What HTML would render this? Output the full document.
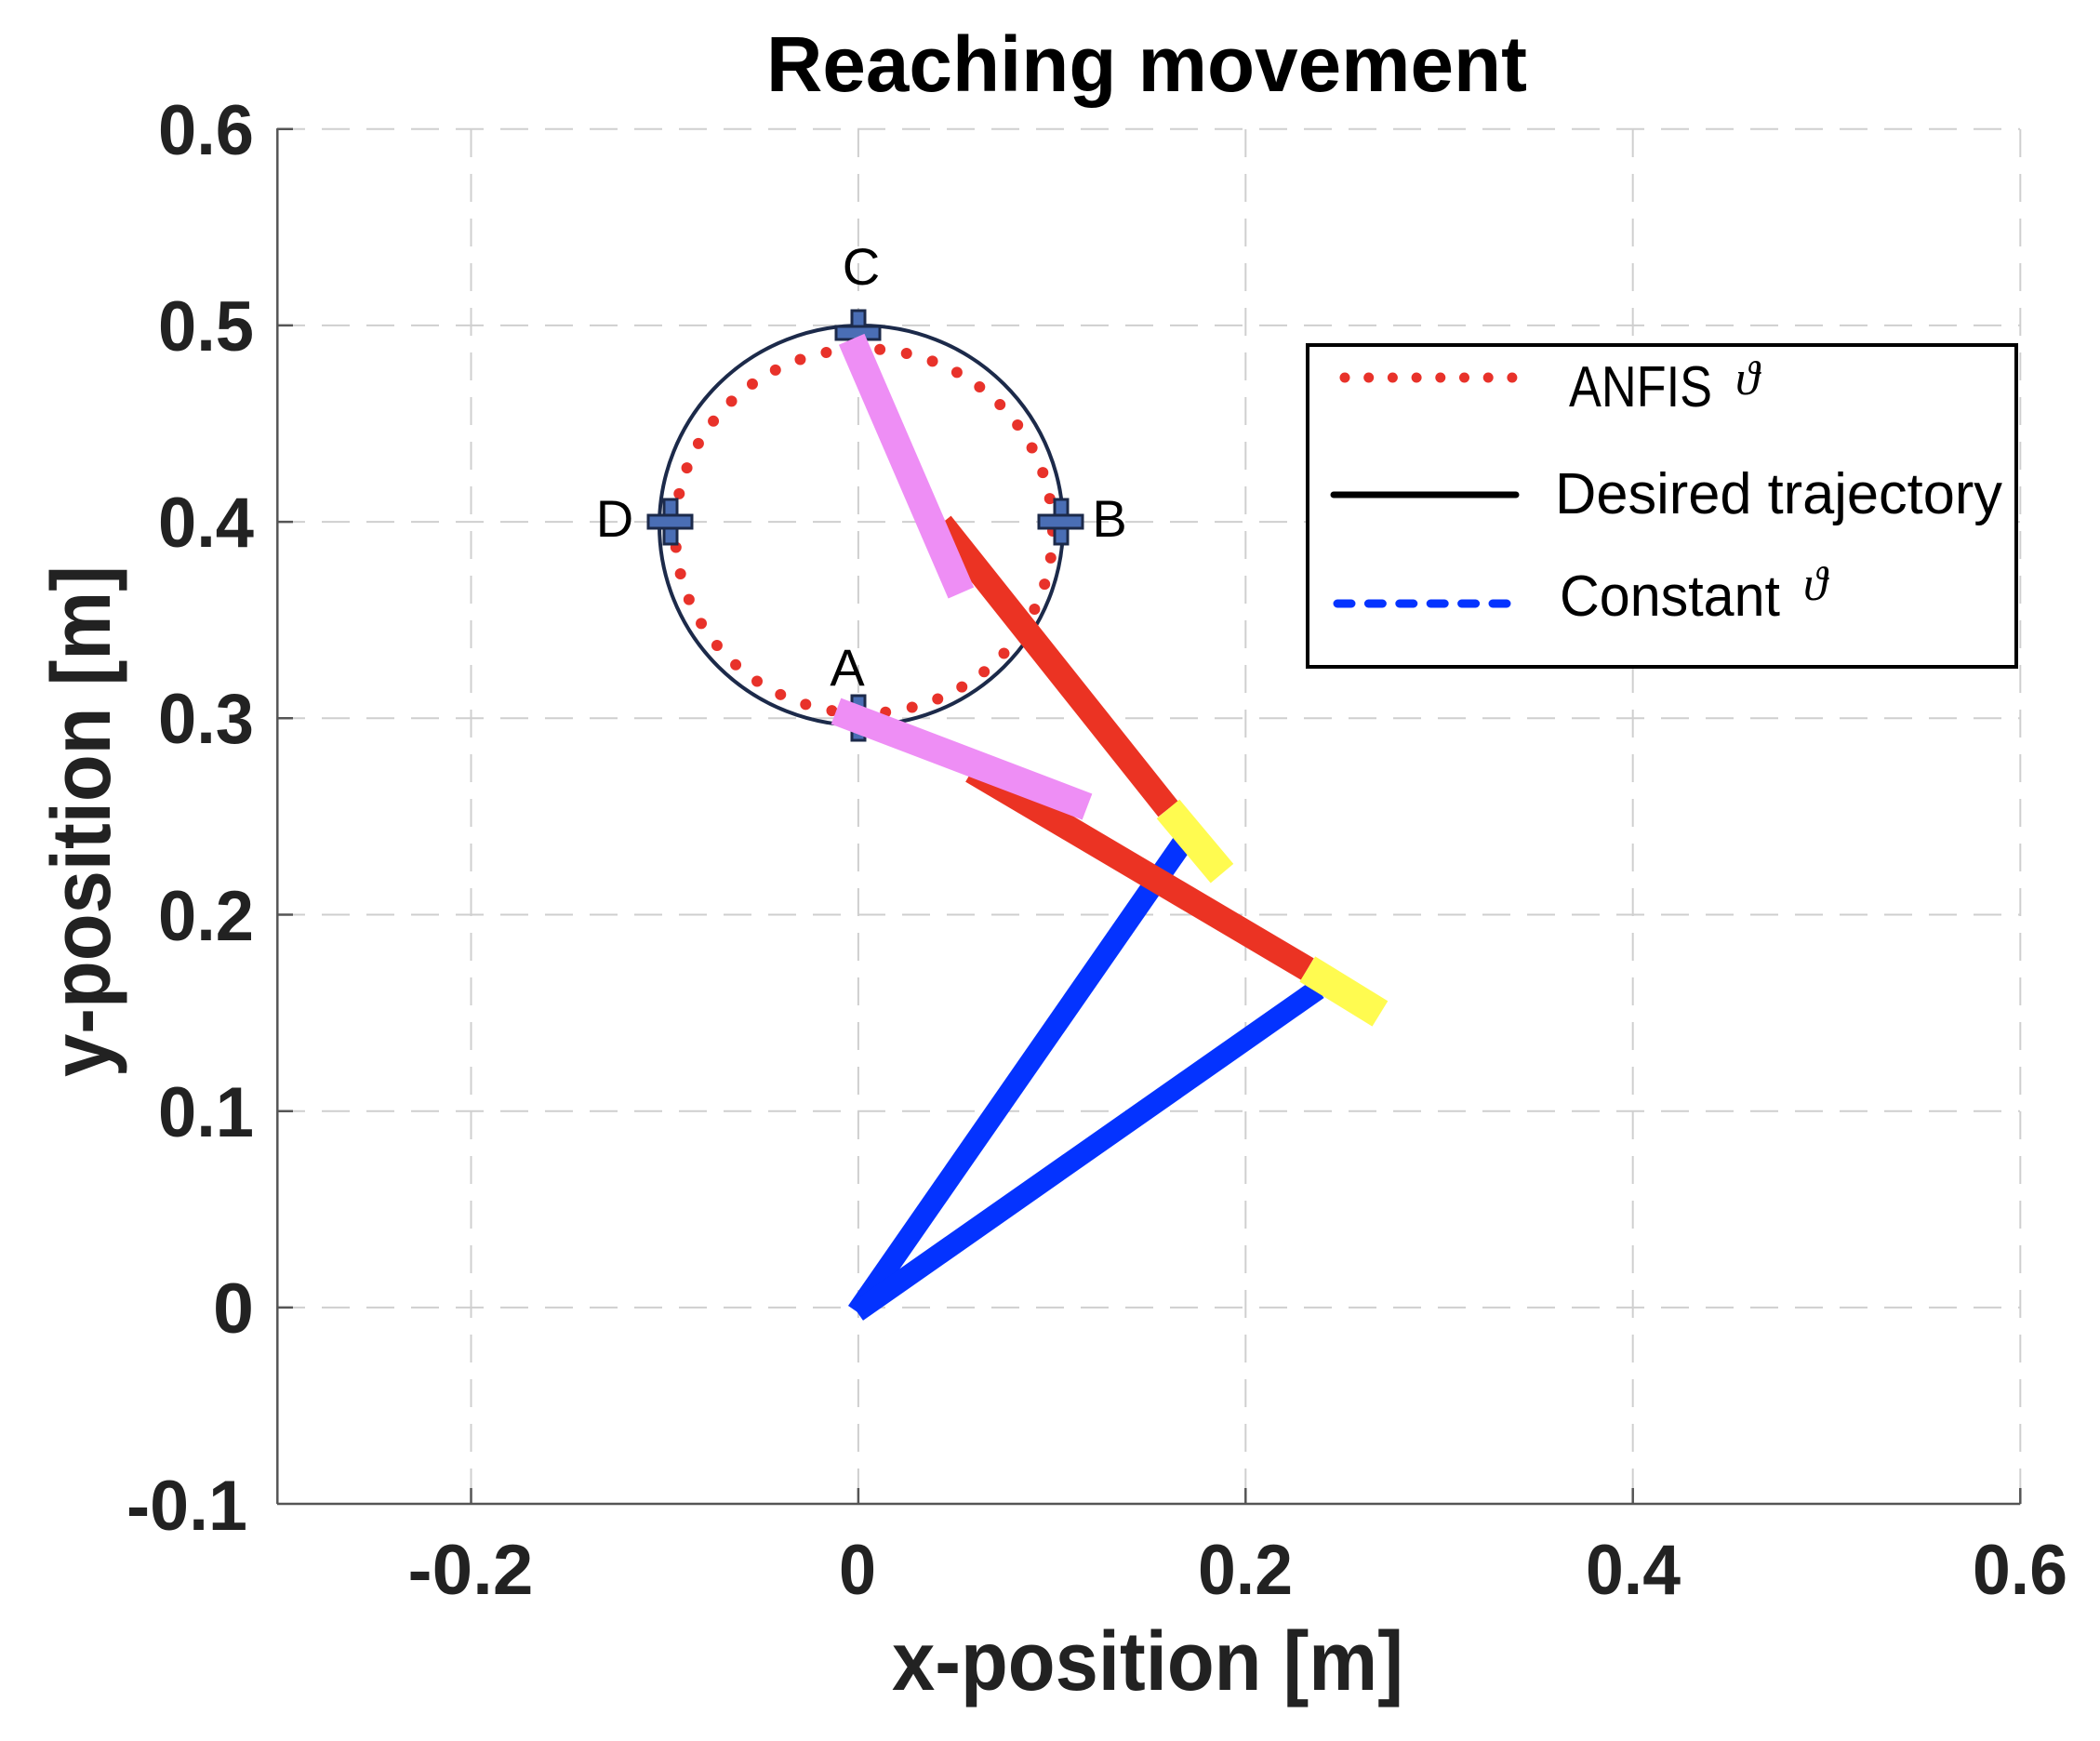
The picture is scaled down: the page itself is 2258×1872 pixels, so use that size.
<!DOCTYPE html>
<html><head><meta charset="utf-8"><style>html,body{margin:0;padding:0;background:#fff}svg{display:block}</style></head>
<body>
<svg width="2258" height="1872" viewBox="0 0 2258 1872" xmlns="http://www.w3.org/2000/svg">
<rect width="2258" height="1872" fill="#fff"/>
<g stroke="#cfcfcf" stroke-width="2" stroke-dasharray="30 18" fill="none">
<line x1="506.5" y1="139" x2="506.5" y2="1617"/>
<line x1="922.9" y1="139" x2="922.9" y2="1617"/>
<line x1="1339.3" y1="139" x2="1339.3" y2="1617"/>
<line x1="1755.7" y1="139" x2="1755.7" y2="1617"/>
<line x1="2172.3" y1="139" x2="2172.3" y2="1617"/>
<line x1="298" y1="138.7" x2="2172" y2="138.7"/>
<line x1="298" y1="349.9" x2="2172" y2="349.9"/>
<line x1="298" y1="561.1" x2="2172" y2="561.1"/>
<line x1="298" y1="772.3" x2="2172" y2="772.3"/>
<line x1="298" y1="983.5" x2="2172" y2="983.5"/>
<line x1="298" y1="1194.7" x2="2172" y2="1194.7"/>
<line x1="298" y1="1405.9" x2="2172" y2="1405.9"/>
</g>
<g stroke="#555" stroke-width="2.5" fill="none">
<line x1="298.3" y1="138" x2="298.3" y2="1617"/>
<line x1="298" y1="1617" x2="2172.3" y2="1617"/>
<line x1="506.5" y1="1617" x2="506.5" y2="1600"/>
<line x1="922.9" y1="1617" x2="922.9" y2="1600"/>
<line x1="1339.3" y1="1617" x2="1339.3" y2="1600"/>
<line x1="1755.7" y1="1617" x2="1755.7" y2="1600"/>
<line x1="2172.3" y1="1617" x2="2172.3" y2="1600"/>
<line x1="298" y1="138.7" x2="315" y2="138.7"/>
<line x1="298" y1="349.9" x2="315" y2="349.9"/>
<line x1="298" y1="561.1" x2="315" y2="561.1"/>
<line x1="298" y1="772.3" x2="315" y2="772.3"/>
<line x1="298" y1="983.5" x2="315" y2="983.5"/>
<line x1="298" y1="1194.7" x2="315" y2="1194.7"/>
<line x1="298" y1="1405.9" x2="315" y2="1405.9"/>
</g>
<g font-family="Liberation Sans, Arial, sans-serif" font-weight="bold" font-size="76" fill="#222" text-anchor="end">
<text x="273" y="166" textLength="103" lengthAdjust="spacingAndGlyphs">0.6</text>
<text x="273" y="377" textLength="103" lengthAdjust="spacingAndGlyphs">0.5</text>
<text x="273" y="588" textLength="103" lengthAdjust="spacingAndGlyphs">0.4</text>
<text x="273" y="799" textLength="103" lengthAdjust="spacingAndGlyphs">0.3</text>
<text x="273" y="1011" textLength="103" lengthAdjust="spacingAndGlyphs">0.2</text>
<text x="273" y="1222" textLength="103" lengthAdjust="spacingAndGlyphs">0.1</text>
<text x="273" y="1433" textLength="44" lengthAdjust="spacingAndGlyphs">0</text>
<text x="266" y="1645" textLength="130" lengthAdjust="spacingAndGlyphs">-0.1</text>
</g>
<g font-family="Liberation Sans, Arial, sans-serif" font-weight="bold" font-size="76" fill="#222" text-anchor="middle">
<text x="506" y="1714" textLength="135" lengthAdjust="spacingAndGlyphs">-0.2</text>
<text x="922" y="1714" textLength="40" lengthAdjust="spacingAndGlyphs">0</text>
<text x="1339" y="1714" textLength="102" lengthAdjust="spacingAndGlyphs">0.2</text>
<text x="1756" y="1714" textLength="102" lengthAdjust="spacingAndGlyphs">0.4</text>
<text x="2172" y="1714" textLength="102" lengthAdjust="spacingAndGlyphs">0.6</text>
</g>
<text x="1233" y="98" font-family="Liberation Sans, Arial, sans-serif" font-weight="bold" font-size="84" fill="#000" text-anchor="middle" textLength="818" lengthAdjust="spacingAndGlyphs">Reaching movement</text>
<text x="1234" y="1817" font-family="Liberation Sans, Arial, sans-serif" font-weight="bold" font-size="90" fill="#222" text-anchor="middle" textLength="550" lengthAdjust="spacingAndGlyphs">x-position [m]</text>
<text transform="translate(118,883) rotate(-90)" font-family="Liberation Sans, Arial, sans-serif" font-weight="bold" font-size="90" fill="#222" text-anchor="middle" textLength="550" lengthAdjust="spacingAndGlyphs">y-position [m]</text>
<ellipse cx="926" cy="565" rx="217" ry="215" fill="none" stroke="#1c2a4a" stroke-width="4"/>
<ellipse cx="929" cy="571" rx="203" ry="196" fill="none" stroke="#e8322a" stroke-width="12" stroke-linecap="round" stroke-dasharray="0 29"/>
<g stroke-linecap="butt" fill="none">
<line x1="921.4" y1="1410.5" x2="1272" y2="905.7" stroke="#0433ff" stroke-width="23"/>
<line x1="921.4" y1="1410.5" x2="1417" y2="1063.6" stroke="#0433ff" stroke-width="23"/>
<line x1="1012" y1="563" x2="1256" y2="869.9" stroke="#eb3323" stroke-width="27"/>
<line x1="1045" y1="829" x2="1405.8" y2="1042" stroke="#eb3323" stroke-width="27"/>
<line x1="1256" y1="869.9" x2="1314" y2="939.2" stroke="#fffb50" stroke-width="32"/>
<line x1="1405.8" y1="1042" x2="1483.9" y2="1090" stroke="#fffb50" stroke-width="32"/>
</g>
<g fill="#4a6eb5" stroke="#1c2a4a" stroke-width="3">
<rect x="916" y="334" width="14" height="48"/><rect x="899" y="351" width="47" height="14"/>
<rect x="1134" y="537" width="14" height="48"/><rect x="1117" y="554" width="47" height="14"/>
<rect x="714" y="537" width="14" height="48"/><rect x="697" y="554" width="47" height="14"/>
<rect x="916" y="748" width="14" height="48"/>
</g>
<g stroke-linecap="butt" fill="none">
<line x1="915.7" y1="364.8" x2="1033.4" y2="637.5" stroke="#ee8ef5" stroke-width="30"/>
<line x1="899" y1="764.6" x2="1169" y2="867.5" stroke="#ee8ef5" stroke-width="30"/>
</g>
<g font-family="Liberation Sans, Arial, sans-serif" font-size="56" fill="#000" text-anchor="middle">
<text x="926" y="306">C</text>
<text x="661" y="577">D</text>
<text x="1193" y="577">B</text>
<text x="911" y="737">A</text>
</g>
<rect x="1406" y="371" width="762" height="346" fill="#fff" stroke="#000" stroke-width="4"/>
<line x1="1446" y1="406" x2="1630" y2="406" stroke="#e8322a" stroke-width="11" stroke-linecap="round" stroke-dasharray="0 25.7"/>
<line x1="1434" y1="532" x2="1630" y2="532" stroke="#000" stroke-width="7" stroke-linecap="round"/>
<line x1="1438" y1="649" x2="1622" y2="649" stroke="#0433ff" stroke-width="9" stroke-linecap="round" stroke-dasharray="15 18.4"/>
<g font-family="Liberation Sans, Arial, sans-serif" font-size="62" fill="#000">
<text x="1687" y="437" textLength="154" lengthAdjust="spacingAndGlyphs">ANFIS</text>
<text x="1672" y="552" textLength="481" lengthAdjust="spacingAndGlyphs">Desired trajectory</text>
<text x="1677" y="662" textLength="237" lengthAdjust="spacingAndGlyphs">Constant</text>
</g>
<g font-family="Liberation Serif, serif" font-style="italic" font-size="52" fill="#000">
<text x="1866" y="424">ϑ</text>
<text x="1939" y="645">ϑ</text>
</g>
</svg>
</body></html>
